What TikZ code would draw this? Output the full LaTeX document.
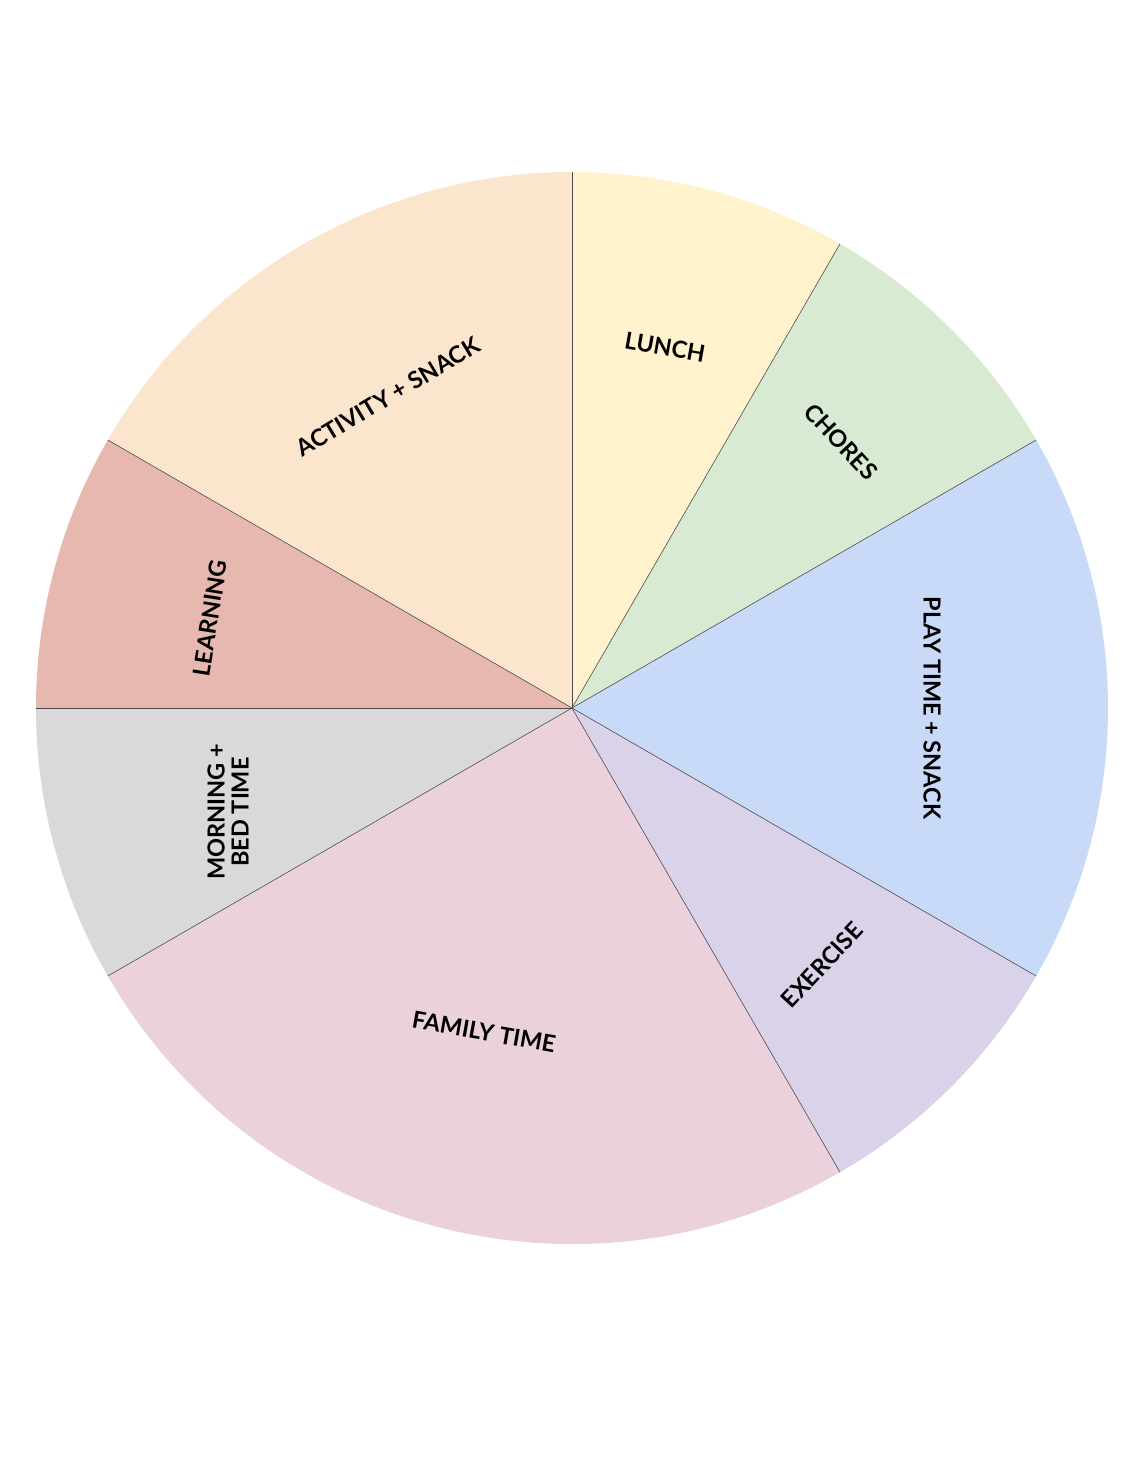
\documentclass[tikz,border=0pt]{standalone}
\usepackage{fontspec}
\setmainfont{Lato}
\definecolor{cAct}{HTML}{FCE5CD}
\definecolor{cLun}{HTML}{FFF2CC}
\definecolor{cCho}{HTML}{D9EAD3}
\definecolor{cPla}{HTML}{C9DAF8}
\definecolor{cExe}{HTML}{D9D2E9}
\definecolor{cFam}{HTML}{EAD1DC}
\definecolor{cMor}{HTML}{D9D9D9}
\definecolor{cLea}{HTML}{E6B8AF}
\tikzset{wedge/.style={draw=black!70,line width=0.6pt},
lbl/.style={font=\fontsize{23.5}{24}\selectfont\bfseries, align=center, inner sep=0pt}}
\begin{document}
\begin{tikzpicture}[x=1pt,y=1pt]
\useasboundingbox (0,0) rectangle (1140,-1475);
\coordinate (c) at (572,-708);
\def\R{536}
\foreach \a/\b/\col in {90/150/cAct,60/90/cLun,30/60/cCho,-30/30/cPla,-60/-30/cExe,-150/-60/cFam,-180/-150/cMor,150/180/cLea}{
  \fill[\col] (c) -- ++(\a:\R) arc[start angle=\a,end angle=\b,radius=\R] -- cycle;
}
\foreach \a in {90,60,30,-30,-60,-150,180,150}{
  \draw[wedge] (c) -- ++(\a:\R);
}
\node[lbl,rotate=31] (act) at (388,-397) {ACTIVITY + SNACK};
\node[lbl,rotate=-10] (lun) at (665,-347) {LUNCH};
\node[lbl,rotate=-47] (cho) at (841,-442) {CHORES};
\node[lbl,rotate=-90] (pla) at (932,-708) {PLAY TIME + SNACK};
\node[lbl,rotate=47] (exe) at (822,-965) {EXERCISE};
\node[lbl,rotate=-10] (fam) at (484,-1032) {FAMILY TIME};
\node[lbl,rotate=90] (mor) at (228,-812) {MORNING +\\BED TIME};
\node[lbl,rotate=81] (lea) at (210,-618) {LEARNING};
\end{tikzpicture}
\end{document}
